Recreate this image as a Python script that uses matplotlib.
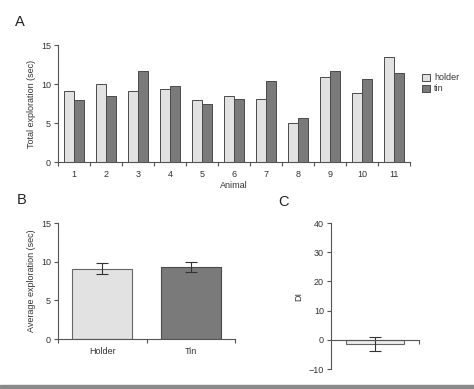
import numpy as np
import matplotlib.pyplot as plt
from matplotlib.patches import Rectangle

plt.rcParams['font.family'] = ['Liberation Sans', 'DejaVu Sans']
plt.rcParams['font.size'] = 6.5

# Panel A: per-animal exploration (sec)
animals = ['1', '2', '3', '4', '5', '6', '7', '8', '9', '10', '11']
holder = [9.1, 10.0, 9.1, 9.4, 8.0, 8.4, 8.1, 5.0, 10.9, 8.85, 13.4]
tin = [8.0, 8.4, 11.7, 9.7, 7.4, 8.1, 10.4, 5.7, 11.7, 10.6, 11.4]

# Panel B: averages with error
groups = ['Holder', 'Tin']
avg = [9.1, 9.3]
avg_err = [0.67, 0.63]

# Panel C: discrimination index
di_mean = [-1.5]
di_err = [2.4]

light = '#e2e2e2'
dark = '#7a7a7a'
edge = '#4a4a4a'
txt = '#333333'
spine_c = '#555555'


def style(ax):
    for s in ['top', 'right']:
        ax.spines[s].set_visible(False)
    for s in ['left', 'bottom']:
        ax.spines[s].set_color(spine_c)
        ax.spines[s].set_linewidth(0.8)
    ax.tick_params(direction='out', length=3, width=0.8, color=spine_c,
                   labelcolor=txt, labelsize=6.5, pad=2)


fig = plt.figure(figsize=(4.74, 3.89), dpi=100)

# ---- A ----
axA = fig.add_axes([0.1224, 0.5835, 0.7426, 0.3008])
x = np.arange(len(animals))
w = 0.3
axA.bar(x - w / 2, holder, w, color=light, edgecolor=edge, linewidth=0.7, label='holder')
axA.bar(x + w / 2, tin, w, color=dark, edgecolor=edge, linewidth=0.7, label='tin')
axA.set_xlim(-0.5, len(animals) - 0.5)
axA.set_ylim(0, 15)
axA.set_yticks([0, 5, 10, 15])
axA.set_xticks(np.arange(len(animals) + 1) - 0.5)
axA.set_xticklabels([])
axA.set_xticks(x, minor=True)
axA.set_xticklabels(animals, minor=True)
style(axA)
axA.tick_params(axis='x', which='minor', length=0, pad=6, labelcolor=txt, labelsize=6.5)
axA.set_ylabel('Total exploration (sec)', color=txt, fontsize=6.5, labelpad=4)
axA.set_xlabel('Animal', color=txt, fontsize=6.5, labelpad=1)
axA.legend(loc='upper left', bbox_to_anchor=(1.025, 0.79), frameon=False,
           fontsize=6.5, handlelength=0.8, handleheight=0.8, handletextpad=0.5,
           labelspacing=0.25, borderaxespad=0, labelcolor=txt)

# ---- B ----
axB = fig.add_axes([0.1224, 0.1285, 0.3734, 0.2982])
xb = np.arange(len(groups))
axB.bar(xb, avg, 0.68, color=[light, dark], edgecolor=['#666666', edge], linewidth=0.8)
axB.errorbar(xb, avg, yerr=avg_err, fmt='none', ecolor=txt, elinewidth=0.8,
             capsize=4.3, capthick=0.8)
axB.set_xlim(-0.5, 1.5)
axB.set_ylim(0, 15)
axB.set_yticks([0, 5, 10, 15])
axB.set_xticks([-0.5, 0.5, 1.5])
axB.set_xticklabels([])
axB.set_xticks(xb, minor=True)
axB.set_xticklabels(groups, minor=True)
style(axB)
axB.tick_params(axis='x', which='minor', length=0, pad=6, labelcolor=txt, labelsize=6.5)
axB.set_ylabel('Average exploration (sec)', color=txt, fontsize=6.5, labelpad=4)

# ---- C ----
axC = fig.add_axes([0.6983, 0.0514, 0.1857, 0.3753])
axC.bar([0], di_mean, 0.66, color='#ececec', edgecolor='#666666', linewidth=0.8)
axC.errorbar([0], di_mean, yerr=di_err, fmt='none', ecolor=txt, elinewidth=0.8,
             capsize=4.3, capthick=0.8)
axC.set_xlim(-0.5, 0.5)
axC.set_ylim(-10, 40)
axC.set_yticks([-10, 0, 10, 20, 30, 40])
axC.set_yticklabels(['\u221210', '0', '10', '20', '30', '40'])
style(axC)
axC.spines['bottom'].set_position(('data', 0))
axC.set_xticks([0.5])
axC.set_xticklabels([])
axC.set_ylabel('DI', color=txt, fontsize=6.5, labelpad=4)

# panel letters
fig.text(0.032, 0.943, 'A', fontsize=10.5, color='#222222', va='center', ha='left')
fig.text(0.036, 0.486, 'B', fontsize=10.5, color='#222222', va='center', ha='left')
fig.text(0.587, 0.481, 'C', fontsize=10.5, color='#222222', va='center', ha='left')

# grey band at the bottom of the figure
fig.patches.append(Rectangle((0, 0), 1, 4 / 389, transform=fig.transFigure,
                             color='#8a8a8a', zorder=0))

fig.savefig('out.png', dpi=100)
